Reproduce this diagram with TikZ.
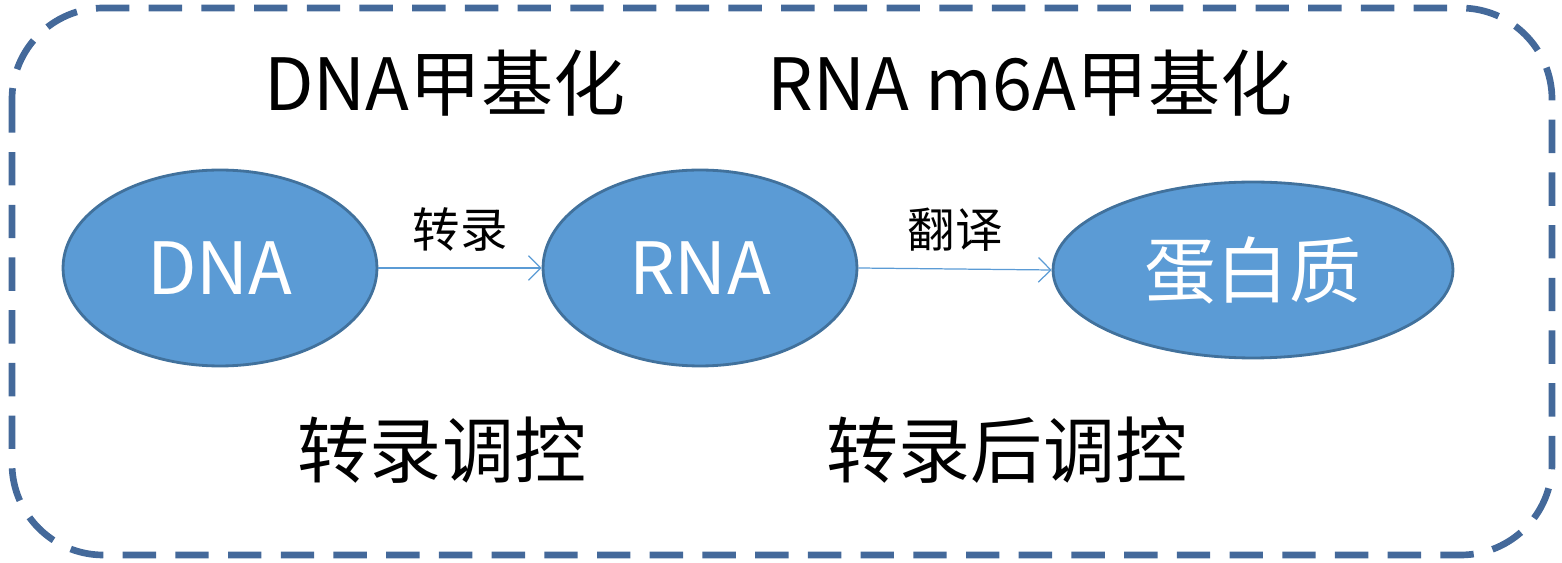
\documentclass[tikz,border=0pt]{standalone}
\usepackage{fontspec}
\setmainfont{Noto Sans CJK SC}
\usetikzlibrary{shapes.geometric,arrows.meta}
\definecolor{fillb}{HTML}{5B9BD5}
\definecolor{edgeb}{HTML}{41719C}
\definecolor{frameb}{HTML}{44699A}
\tikzset{
  ell/.style={ellipse,fill=fillb,draw=edgeb,line width=1.6pt,text=white,inner sep=0pt,font=\fontsize{41}{44}\selectfont},
  conn/.style={draw=fillb,line width=0.7pt,-{Straight Barb[length=7pt,width=14pt]}},
  big/.style={font=\fontsize{41}{44}\selectfont},
  lab/.style={font=\fontsize{27}{30}\selectfont}
}
\begin{document}
\begin{tikzpicture}[x=0.02cm,y=-0.02cm]
\useasboundingbox (0,0) rectangle (1562,563);
\draw[frameb,line width=3.8pt,dash pattern=on 19pt off 11pt,rounded corners=52pt] (12,8) rectangle (1552,555);
\node[ell,minimum width=6.28cm,minimum height=3.92cm] (dna) at (220,268) {DNA};
\node[ell,minimum width=6.28cm,minimum height=3.92cm] (rna) at (700,268) {RNA};
\node[ell,minimum width=8.0cm,minimum height=3.52cm] (pro) at (1253,270) {蛋白质};
\draw[conn] (dna.east) -- (rna.west);
\draw[conn] (rna.east) -- (pro.west);
\node[lab] (l1) at (460,230) {转录};
\node[lab] (l2) at (955,230) {翻译};
\node[big] (t1) at (445,83) {DNA甲基化};
\node[big] (t2) at (1030,83) {RNA m6A甲基化};
\node[big] (b1) at (442,450) {转录调控};
\node[big] (b2) at (1007,450) {转录后调控};
\end{tikzpicture}
\end{document}
